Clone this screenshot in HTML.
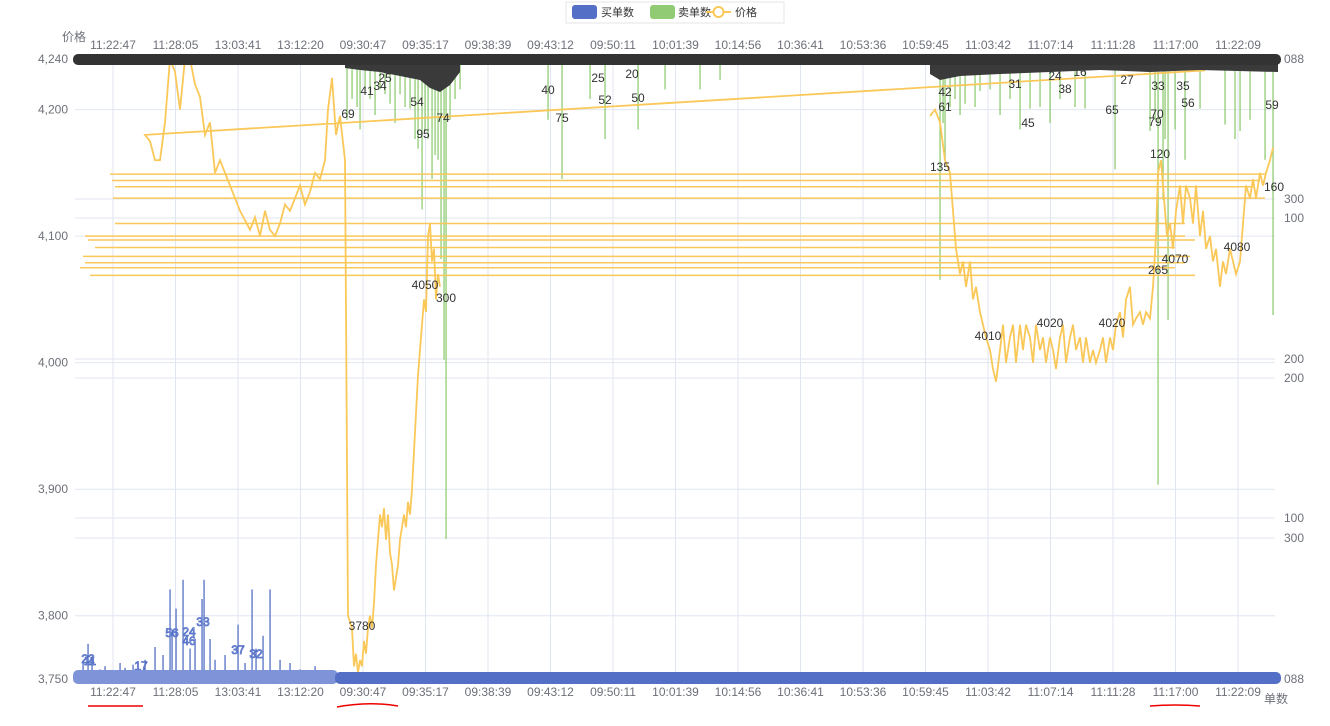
<!DOCTYPE html>
<html><head><meta charset="utf-8">
<style>
html,body{margin:0;padding:0;background:#fff;}
svg{display:block;font-family:"Liberation Sans","Noto Sans CJK SC",sans-serif;}
</style></head>
<body>
<svg id="chart" width="1330" height="726" viewBox="0 0 1330 726" xmlns="http://www.w3.org/2000/svg">
  <g id="grid"></g>
  <g id="sell"></g>
  <g id="buy"></g>
  <g id="price"></g>
  <g id="labels"></g>
  <g id="axes"></g>
  <g>
    <rect x="566" y="2" width="218" height="21" fill="#fff" stroke="#e5e5e5"/>
    <g>
      <rect x="572" y="5" width="25" height="14" rx="3" fill="#5470c6"/>
      <text x="601" y="16" font-size="11" fill="#333">买单数</text>
    </g>
    <g>
      <rect x="650" y="5" width="25" height="14" rx="3" fill="#91cc75"/>
      <text x="678" y="16" font-size="11" fill="#333">卖单数</text>
    </g>
    <g>
      <line x1="706" y1="12" x2="731" y2="12" stroke="#fac858" stroke-width="2"/>
      <circle cx="718.5" cy="12" r="5" fill="#fff" stroke="#fac858" stroke-width="2"/>
      <text x="735" y="16" font-size="11" fill="#333">价格</text>
    </g>
  </g>
  <g>
    <path d="M88 706 L143 706" stroke="#e00" stroke-width="1.5"/>
    <path d="M337 707 Q368 701 398 706" stroke="#e00" stroke-width="1.5" fill="none"/>
    <path d="M1150 706 Q1175 704 1200 706" stroke="#e00" stroke-width="1.5" fill="none"/>
  </g>
</svg>
<script>
// ---- data ----
const tickLabels = ["11:22:47","11:28:05","13:03:41","13:12:20","09:30:47","09:35:17","09:38:39","09:43:12","09:50:11","10:01:39","10:14:56","10:36:41","10:53:36","10:59:45","11:03:42","11:07:14","11:11:28","11:17:00","11:22:09"];
const priceTicks = [3750,3800,3900,4000,4100,4200,4240];
const rightTicks = [["088",0],["300",140],["100",159],["200",300],["200",319],["100",459],["300",479],["088",620]];
const priceIdx = [1130,70,75,80,85,90,95,100,105,110,115,120,125,130,135,140,145,150,155,160,165,175,180,185,190,195,200,205,210,215,220,225,230,235,240,245,250,253,257,261,265,270,273,277,279,281,283,285,287,289,291,293,295,297,299,301,303,305,307,309,311,313,315,317,319,321,323,325,327,329,331,333,335,337,339,341,343,345,347,349,351,353,355,357,359,361,363,365];
const priceVal = [4231,4180,4175,4160,4160,4190,4240,4230,4200,4240,4240,4220,4210,4180,4190,4150,4160,4150,4140,4130,4120,4105,4115,4100,4120,4105,4100,4110,4125,4120,4130,4140,4125,4135,4150,4145,4160,4200,4225,4180,4195,4160,3800,3790,3760,3770,3755,3765,3760,3780,3770,3790,3800,3790,3810,3840,3860,3880,3870,3885,3860,3880,3850,3840,3820,3830,3840,3860,3870,3880,3870,3890,3880,3900,3930,3960,3990,4010,4030,4050,4040,4100,4110,4080,4090,4050,4070,4060];
const price2Idx = [855,860,865,870,875,878,881,885,888,891,
895,898,901,905,908,911,915,918,921,925,
928,931,935,938,941,945,948,951,955,958,
961,965,968,971,975,978,981,985,988,991,
995,998,1001,1005,1008,1011,1015,1018,1021,1025,
1028,1031,1035,1038,1041,1045,1048,1051,1055,1058,
1061,1065,1068,1071,1075,1078,1081,1083,1086,1089,
1092,1095,1098,1101,1105,1108,1111,1115,1118,1121,
1125,1128,1131,1135,1138,1141,1145,1148,1151,1155,
1158,1161,1165,1168,1171,1175,1178,1181,1185,1188,
1191,1195,1198];
const price2Val = [4195,4200,4190,4160,4150,4120,4090,4070,4080,4060,
4080,4050,4060,4040,4030,4020,4010,3995,3985,4010,
4030,4000,4020,4030,4000,4030,4010,4030,4020,4000,
4030,4010,4020,4000,4020,4010,3995,4020,4030,4000,
4020,4030,4010,4020,4000,4020,4000,4010,4000,4010,
4020,4000,4020,4010,4030,4040,4020,4050,4060,4030,
4035,4040,4030,4040,4035,4060,4100,4150,4160,4130,
4100,4110,4090,4120,4140,4110,4140,4130,4110,4140,
4100,4120,4090,4100,4080,4090,4060,4080,4070,4090,
4080,4070,4080,4110,4140,4130,4145,4130,4150,4140,
4150,4160,4170];
const returnStart = [35,37,40,38,40,10,13,20,8,10,5,15];
const returnEnd = [1190,1185,1180,1190,1110,1110,1120,1100,1115,1110,1100,1120];
const returnPrice = [4149,4144,4139,4130,4110,4100,4097,4091,4084,4079,4075,4069];
const sellIdx = [272,277,282,285,290,295,300,305,310,315,320,325,330,335,340,343,347,350,353,357,360,363,366,369,371,375,380,385,473,487,515,530,563,590,625,645,865,868,870,875,880,885,890,900,905,915,925,935,945,955,965,975,985,1000,1010,1040,1075,1080,1083,1088,1090,1093,1100,1110,1125,1150,1160,1165,1175,1190,1198];
const sellVal = [38,25,30,44,20,25,35,19,22,28,40,22,30,31,50,56,94,45,50,75,60,63,125,188,300,38,25,19,38,75,25,50,44,19,19,13,138,40,63,30,25,35,28,30,20,19,35,25,44,31,30,40,25,30,31,69,45,38,266,88,50,163,44,63,31,41,50,45,38,63,160];
const buyIdx = [8,13,17,25,30,45,50,58,60,70,80,88,95,97,101,108,115,120,127,129,135,140,150,163,170,177,181,188,195,205,215,225,240,255];
const buyVal = [10,22,12,6,8,10,7,9,6,12,20,15,56,31,44,62,19,25,50,62,25,12,15,34,10,56,19,27,56,12,10,6,8,5];
const labelText = ["69","95","4050","300","3780","135","61","4010","4020","4020","65","79","70","120","265","4070","4080","160","40","75","52","50","25","20","56","59","41","34","25","54","74","42","45","27","35","33","56","46","24","33","37","32","11","17","22","16","24","31","38"];
const labelX = [348,423,425,446,362,940,945,988,1050,1112,1112,1155,1157,1160,1158,1175,1237,1274,548,562,605,638,598,632,1188,1272,367,380,385,417,443,945,1028,1127,1183,1158,172,189,189,203,238,256,90,141,88,1080,1055,1015,1065];
const labelY = [118,138,289,302,630,171,111,340,327,327,114,126,118,158,274,263,251,191,94,122,104,102,82,78,107,109,95,90,82,106,122,96,127,84,90,90,637,645,636,626,654,658,665,670,663,76,80,88,93];
const labelColor = [0,0,0,0,0,0,0,0,0,0,0,0,0,0,0,0,0,0,0,0,0,0,0,0,0,0,0,0,0,0,0,0,0,0,0,0,1,1,1,1,1,1,1,1,1,0,0,0,0];
// ---- scales ----
const X0=75, X1=1275, Y0=679, Y1=59, PMIN=3750, PMAX=4240;
const xS = i => X0 + i*(X1-X0)/1200;
const yS = p => Y0 - (p-PMIN)*(Y0-Y1)/(PMAX-PMIN);
const barK = 1.6;
const NS="http://www.w3.org/2000/svg";
function mk(tag, attrs, parent){const e=document.createElementNS(NS,tag);for(const k in attrs)e.setAttribute(k,attrs[k]);parent.appendChild(e);return e;}
const grid=document.getElementById('grid'), axes=document.getElementById('axes');
tickLabels.forEach((t,k)=>{
  const x=113+k*62.5;
  const l=mk('line',{x1:x,y1:Y1,x2:x,y2:Y0,stroke:'#e0e6f1'},grid);
  
  
  const tb=mk('text',{x:x,y:696,'font-size':12,fill:'#6e7079','text-anchor':'middle'},axes);
  tb.textContent=t;
  
  
  const tt=mk('text',{x:x,y:49,'font-size':12,fill:'#6e7079','text-anchor':'middle'},axes);
  tt.textContent=t;
  
  
});
priceTicks.forEach(p=>{
  const y=yS(p);
  const l=mk('line',{x1:X0,y1:y,x2:X1,y2:y,stroke:'#e0e6f1'},grid);
  
  
  const t=mk('text',{x:68,y:y+4,'font-size':12,fill:'#6e7079','text-anchor':'end'},axes);
  t.textContent=p.toLocaleString('en-US');
  
  
});
rightTicks.forEach(r=>{
  const y=Y1+r[1];
  const l=mk('line',{x1:X0,y1:y,x2:X1,y2:y,stroke:'#e0e6f1'},grid);
  
  
  const t=mk('text',{x:1284,y:y+4,'font-size':12,fill:'#6e7079'},axes);
  t.textContent=r[0];
  
  
});
const pt=mk('text',{x:62,y:41,'font-size':12,fill:'#6e7079'},axes);pt.textContent='价格';


const rt=mk('text',{x:1264,y:703,'font-size':12,fill:'#6e7079'},axes);rt.textContent='单数';


const sell=document.getElementById('sell');
sellIdx.forEach((i,k)=>{
  const b=mk('rect',{x:xS(i)-0.6,y:Y1,width:1.3,height:sellVal[k]*barK,fill:'#91cc75'},sell);
  
  
});
const buy=document.getElementById('buy');
buyIdx.forEach((i,k)=>{
  const h=buyVal[k]*barK;
  const b=mk('rect',{x:xS(i)-0.6,y:Y0-h,width:1.3,height:h,fill:'#5470c6'},buy);
  
  
});
const pg=document.getElementById('price');
returnPrice.forEach((p,k)=>{
  const l=mk('line',{x1:xS(returnStart[k]),y1:yS(p),x2:xS(returnEnd[k]),y2:yS(p),stroke:'#fac858','stroke-width':1.5},pg);
  
  
});
function poly(idx,val,name){
  const d=idx.map((i,k)=>xS(i).toFixed(1)+','+yS(val[k]).toFixed(1)).join(' ');
  const p=mk('polyline',{points:d,fill:'none',stroke:'#fac858','stroke-width':1.8},pg);
  
  
}
poly(priceIdx,priceVal,'price-line-morning');
poly(price2Idx,price2Val,'price-line-afternoon');
const c1=mk('path',{d:'M345 60 L460 60 L460 72 L450 85 L440 92 L430 88 L420 80 L400 76 L380 72 L360 70 L345 68 Z',fill:'#3a3a3a'},axes);


const c2=mk('path',{d:'M930 60 L1278 60 L1278 72 L1200 70 L1150 72 L1100 70 L1050 72 L1000 74 L960 76 L940 80 L930 74 Z',fill:'#3a3a3a'},axes);


const topBand=mk('rect',{x:73,y:54,width:1208,height:11,rx:5,fill:'#333'},axes);


const leftBand=mk('rect',{x:73,y:670,width:265,height:14,rx:5,fill:'#7f94d8'},axes);


const botBand=mk('rect',{x:335,y:672,width:946,height:12,rx:5,fill:'#5470c6'},axes);


const lg=document.getElementById('labels');
labelText.forEach((t,k)=>{
  const e=mk('text',{x:labelX[k],y:labelY[k],'font-size':12,'text-anchor':'middle',fill:labelColor[k]?'#b8c4ee':'#333',stroke:labelColor[k]?'#5470c6':'none','stroke-width':labelColor[k]?0.8:0},lg);
  e.textContent=t;
  
  
});
</script>
</body></html>
